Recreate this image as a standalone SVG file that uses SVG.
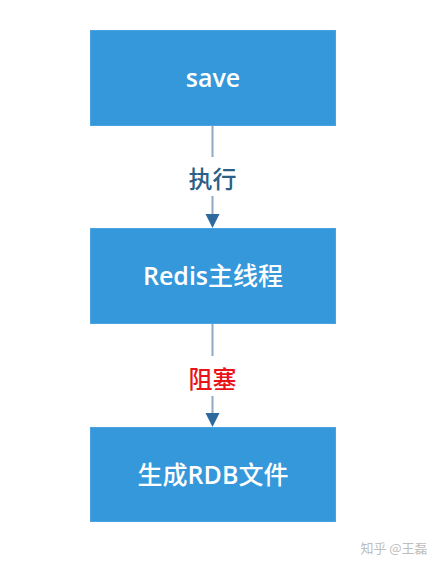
<svg xmlns="http://www.w3.org/2000/svg" width="440" height="566" viewBox="0 0 440 566">
<defs>
<style>
.box{fill:#3498db;stroke:#4aa3e0;stroke-width:1}
.bt{font-family:"Open Sans","Noto Sans CJK SC",sans-serif;font-size:25px;font-weight:500;fill:#ffffff;text-anchor:middle;dominant-baseline:central}
.la{font-weight:600}
.lbl{font-family:"Noto Sans CJK SC",sans-serif;font-size:24px;font-weight:500;text-anchor:middle;dominant-baseline:central}
.ln{stroke:#8fa9c2;stroke-width:2;fill:none}
</style>
</defs>
<rect width="440" height="566" fill="#ffffff"/>
<g id="connectors">
<line class="ln" x1="212.5" y1="125" x2="212.5" y2="157"/>
<line class="ln" x1="212.5" y1="196" x2="212.5" y2="215"/>
<path d="M205.5,214 L219.5,214 L212.5,228 Z" fill="#2e6a9e"/>
<text class="lbl" x="212.5" y="177" fill="#2b5f86">执行</text>
<line class="ln" x1="212.5" y1="323" x2="212.5" y2="356"/>
<line class="ln" x1="212.5" y1="396" x2="212.5" y2="414"/>
<path d="M205.5,413 L219.5,413 L212.5,427 Z" fill="#2e6a9e"/>
<text class="lbl" x="212.5" y="377" fill="#e8141a">阻塞</text>
</g>
<g id="save">
<rect class="box" x="90.5" y="30.5" width="245" height="95"/>
<text class="bt" x="213" y="77" font-size="24"><tspan class="la">save</tspan></text>
</g>
<g id="redis">
<rect class="box" x="90.5" y="228.5" width="245" height="95"/>
<text class="bt" x="213" y="275"><tspan class="la">Redis</tspan>主线程</text>
</g>
<g id="rdb">
<rect class="box" x="90.5" y="427.5" width="245" height="94"/>
<text class="bt" x="213" y="474">生成<tspan class="la">RDB</tspan>文件</text>
</g>
<text x="394" y="547" font-family="Noto Sans CJK SC,sans-serif" font-size="13" fill="#bdbdbd" text-anchor="middle" dominant-baseline="central">知乎 @王磊</text>
</svg>
